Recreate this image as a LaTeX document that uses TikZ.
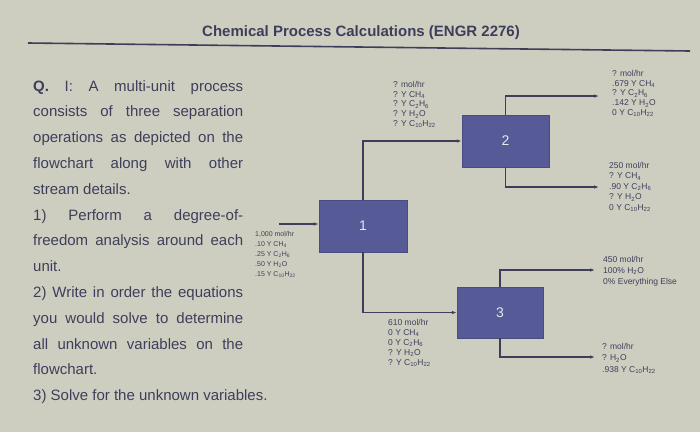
\documentclass[tikz,border=0pt]{standalone}
\usepackage{fontspec}
\setmainfont{Liberation Sans}
\usetikzlibrary{arrows.meta}
\definecolor{paper}{RGB}{206,206,192}
\definecolor{ink}{RGB}{62,62,92}
\definecolor{unitblue}{RGB}{86,90,150}
\def\methane{CH\textsubscript{4}}
\def\ethane{C\textsubscript{2}H\textsubscript{6}}
\def\water{H\textsubscript{2}O}
\def\decane{C\textsubscript{10}H\textsubscript{22}}
\newlength\qwidth
\setlength\qwidth{210pt}
\def\qline#1{\makebox[\qwidth][s]{#1}}
\tikzset{
  unit/.style={fill=unitblue, draw=unitblue!85!black, minimum width=88pt, minimum height=52pt, inner sep=0pt, text=white!85!unitblue, font=\fontsize{14}{14}\selectfont},
  flow/.style={draw=ink, line width=1.1pt, -{Latex[length=5pt,width=3.5pt]}},
  stream/.style={anchor=north west, inner sep=0pt, align=left, text=ink, font=\fontsize{8.5}{9.8}\selectfont},
}

\begin{document}
\begin{tikzpicture}[x=1pt, y=-1pt]
		%%%%% START %%%%%
		\fill[paper] (0,0) rectangle (700,432);
		\useasboundingbox (0,0) rectangle (700,432);
		
		\node[text=ink, font=\fontsize{15}{15}\selectfont\bfseries] (title) at (361,33) {Chemical Process Calculations (ENGR 2276)};
		\draw[ink, line width=1.6pt] (28,43) -- (690,51);
		
		\node[anchor=north west, inner sep=0pt, align=left, text=ink, font=\fontsize{15}{25.8}\selectfont] (question) at (33,80) {%
			\qline{\textbf{Q.} I: A multi-unit process}\\
			\qline{consists of three separation}\\
			\qline{operations as depicted on the}\\
			\qline{flowchart along with other}\\
			stream details.\\
			\qline{1) Perform a degree-of-}\\
			\qline{freedom analysis around each}\\
			unit.\\
			\qline{2) Write in order the equations}\\
			\qline{you would solve to determine}\\
			\qline{all unknown variables on the}\\
			flowchart.\\
			\makebox[\qwidth][l]{3) Solve for the unknown variables.}};
		
		\node[unit, minimum width=88pt] (unit1) at (363,226) {1};
		\node[unit, minimum width=87pt] (unit2) at (505.5,141) {2};
		\node[unit, minimum width=86pt, minimum height=51pt] (unit3) at (500,312.5) {3};
		
		\coordinate (feedin) at (279,224);
		\coordinate (out2top) at (599,96);
		\coordinate (out2bot) at (599,187);
		\coordinate (out3top) at (595,270);
		\coordinate (out3bot) at (595,357);
		
		\draw[flow] (feedin) -- (feedin -| unit1.west);
		\draw[flow] (unit1.north) |- (unit2.west);
		\draw[flow] (unit1.south) |- (unit3.west);
		\draw[flow] (unit2.north) |- (out2top);
		\draw[flow] (unit2.south) |- (out2bot);
		\draw[flow] (unit3.north) |- (out3top);
		\draw[flow] (unit3.south) |- (out3bot);
		
		\node[stream, font=\fontsize{7}{10}\selectfont] (feed) at (255,231) {1,000 mol/hr\\.10 Y \methane\\.25 Y \ethane\\.50 Y \water\\.15 Y \decane};
		\node[stream] (top1) at (393,81) {? mol/hr\\? Y \methane\\? Y \ethane\\? Y \water\\? Y \decane};
		\node[stream] (top2) at (612,70) {? mol/hr\\.679 Y \methane\\? Y \ethane\\.142 Y \water\\0 Y \decane};
		\node[stream, font=\fontsize{8.5}{10.5}\selectfont] (bot2) at (609,162) {250 mol/hr\\? Y \methane\\.90 Y \ethane\\? Y \water\\0 Y \decane};
		\node[stream, font=\fontsize{8.5}{11}\selectfont] (top3) at (603,256) {450 mol/hr\\100\% \water\\0\% Everything Else};
		\node[stream, font=\fontsize{8.5}{10}\selectfont] (bot1) at (388,319) {610 mol/hr\\0 Y \methane\\0 Y \ethane\\? Y \water\\? Y \decane};
		\node[stream, font=\fontsize{8.5}{11.5}\selectfont] (bot3) at (602,343) {? mol/hr\\? \water\\.938 Y \decane};
		%%%%% END %%%%%
\end{tikzpicture}
\end{document}
